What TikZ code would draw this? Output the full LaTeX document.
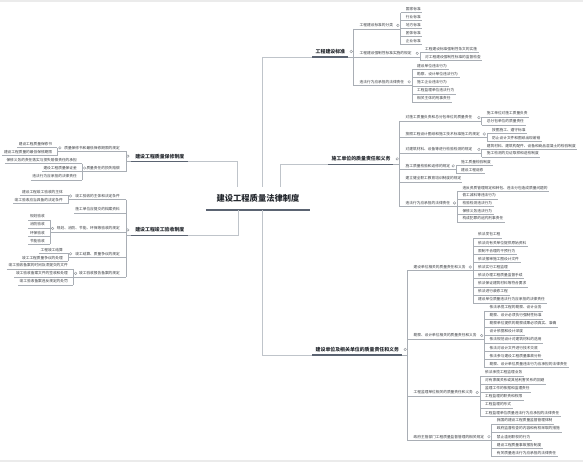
\documentclass[tikz,border=0pt]{standalone}
\usepackage{fontspec}
\setmainfont{Noto Sans CJK SC}
\definecolor{txt}{HTML}{3A3D42}
\definecolor{maintxt}{HTML}{24282E}
\definecolor{ln}{HTML}{A9AEB5}
\definecolor{trunkc}{HTML}{BFC4CA}
\definecolor{dark}{HTML}{5B6472}
\definecolor{framec}{HTML}{EBEBEB}
\tikzset{
  base/.style={inner xsep=0pt, inner ysep=1.7bp, text=txt, font=\fontsize{3.7bp}{4bp}\selectfont},
  rleaf/.style={base, anchor=south west, execute at begin node={\hspace*{5bp}}, execute at end node={\hspace*{1.5bp}}},
  lleaf/.style={base, anchor=south east, execute at begin node={\hspace*{1.5bp}}, execute at end node={\hspace*{5bp}}},
  rpar/.style={base, anchor=south west, execute at begin node={\hspace*{6.5bp}}, execute at end node={\hspace*{1bp}}},
  lpar/.style={base, anchor=south east, execute at begin node={\hspace*{1bp}}, execute at end node={\hspace*{6bp}}},
  mainb/.style={inner xsep=0pt, inner ysep=3bp, text=maintxt, font=\fontsize{4.9bp}{5.5bp}\selectfont\bfseries},
  rmain/.style={mainb, anchor=south west, execute at begin node={\hspace*{3.5bp}}, execute at end node={\hspace*{2.5bp}}},
  lmain/.style={mainb, anchor=south east, execute at begin node={\hspace*{4bp}}, execute at end node={\hspace*{3.5bp}}},
  centerb/.style={anchor=south, minimum width=104bp, minimum height=23bp, inner sep=0pt, text=maintxt, font=\fontsize{8.3bp}{9bp}\selectfont\bfseries},
  uline/.style={draw=ln, line width=0.55bp},
  conn/.style={draw=ln, line width=0.6bp},
  trunk/.style={draw=trunkc, line width=0.9bp},
  mline/.style={draw=dark, line width=1.4bp},
  cline/.style={draw=dark, line width=1.7bp},
  circ/.style={circle, draw=ln!85!black, fill=white, line width=0.4bp, minimum size=2.6bp, inner sep=0pt},
}
\newcommand\RL[4]{\node[rleaf] (#1) at (#2,#3) {#4};\draw[uline] (#1.south west) -- (#1.south east);}
\newcommand\LL[4]{\node[lleaf] (#1) at (#2,#3) {#4};\draw[uline] (#1.south west) -- (#1.south east);}
\newcommand\RP[4]{\node[rpar] (#1) at (#2,#3) {#4};\draw[uline] (#1.south west) -- (#1.south east);}
\newcommand\LP[4]{\node[lpar] (#1) at (#2,#3) {#4};\draw[uline] (#1.south west) -- (#1.south east);}
\newcommand\RWire[3]{%
  \draw[uline] (#1.south east) -- (#1.south east -| #2.south west);
  \draw[uline] (#2.south west) -- (#3.south west);
  \node[circ,xshift=-2.8bp] (#1o) at (#2.south west |- #1.center) {};}
\newcommand\LWire[3]{%
  \draw[uline] (#1.south west) -- (#1.south west -| #2.south east);
  \draw[uline] (#2.south east) -- (#3.south east);
  \node[circ,xshift=2.6bp] (#1o) at (#2.south east |- #1.center) {};}
\newcommand\RMWire[3]{%
  \draw[mline] (#1.south west) -- (#1.south east);
  \draw[conn] (#1.south east) -- (#1.south east -| #2.south west);
  \draw[conn] (#2.south west) -- (#3.south west);
  \node[circ,xshift=-1.8bp] (#1o) at (#2.south west |- #1.center) {};}
\newcommand\LMWire[3]{%
  \draw[mline] (#1.south west) -- (#1.south east);
  \draw[conn] (#1.south west) -- (#1.south west -| #2.south east);
  \draw[conn] (#2.south east) -- (#3.south east);
  \node[circ,xshift=1.8bp] (#1o) at (#2.south east |- #1.center) {};}
\begin{document}
\begin{tikzpicture}[x=1bp,y=-1bp]
\useasboundingbox (0,0) rectangle (583,462);
\fill[framec] (0,0) rectangle (583,462);
\fill[white] (0,2.5) rectangle (583,459.5);

% ---------- center ----------
\node[centerb] (c) at (258,210) {建设工程质量法律制度};
\draw[cline] (c.south west) -- (c.south east);

% ---------- main nodes ----------
\node[rmain] (R1) at (312,57) {工程建设标准};
\node[rmain] (R2) at (328,164.5) {施工单位的质量责任和义务};
\node[rmain] (R3) at (312,355) {建设单位及相关单位的质量责任和义务};
\node[lmain] (L1) at (188,161.7) {建设工程质量保修制度};
\node[lmain] (L2) at (188,235.5) {建设工程竣工验收制度};

\draw[trunk] ([xshift=56.3bp]c.north west) |- (R1.south west);
\draw[trunk] ([xshift=74.7bp]c.north west) |- (R2.south west);
\draw[trunk] ([xshift=56.3bp]c.south west) |- (R3.south west);
\draw[trunk] ([xshift=31.3bp]c.north west) |- (L1.south east);
\draw[trunk] ([xshift=33bp]c.south west) |- (L2.south east);

% ---------- R1 工程建设标准 ----------
\RP{C1}{353}{29}{工程建设标准的分类}
\RP{C2}{353}{57}{工程建设强制性标准实施的规定}
\RP{C3}{353}{85.5}{违法行为应承担的法律责任}
\RL{C1a}{400.7}{12.6}{国家标准}
\RL{C1b}{400.7}{20.6}{行业标准}
\RL{C1c}{400.7}{28.6}{地方标准}
\RL{C1d}{400.7}{36.6}{团体标准}
\RL{C1e}{400.7}{44.6}{企业标准}
\RL{C2a}{420}{52.6}{工程建设标准强制性条文的实施}
\RL{C2b}{420}{60.6}{对工程建设强制性标准的监督检查}
\RL{C3a}{412}{69.6}{建设单位违法行为}
\RL{C3b}{412}{77.7}{勘察、设计单位违法行为}
\RL{C3c}{412}{85.8}{施工企业违法行为}
\RL{C3d}{412}{93.9}{工程监理单位违法行为}
\RL{C3e}{412}{102}{相关主体的刑事责任}
\RWire{C1}{C1a}{C1e}
\RWire{C2}{C2a}{C2b}
\RWire{C3}{C3a}{C3e}
\RMWire{R1}{C1}{C3}

% ---------- R2 施工单位 ----------
\RP{K1}{399}{121.2}{对施工质量负责和总分包单位的质量责任}
\RP{K2}{399}{137.6}{按照工程设计图纸和施工技术标准施工的规定}
\RP{K3}{399}{153.1}{对建筑材料、设备等进行检验检测的规定}
\RP{K4}{399}{169.5}{施工质量检验和返修的规定}
\RP{K5}{399}{181.9}{建立健全职工教育培训制度的规定}
\RP{K6}{399}{206.6}{违法行为应承担的法律责任}
\RL{K1a}{481.7}{117.1}{施工单位对施工质量负责}
\RL{K1b}{481.7}{125.2}{总分包单位的质量责任}
\RL{K2a}{487}{133.5}{按图施工、遵守标准}
\RL{K2b}{487}{141.7}{防止设计文件和图纸出现差错}
\RL{K3a}{481.7}{149.3}{建筑材料、建筑构配件、设备和商品混凝土的检验制度}
\RL{K3b}{481.7}{156.9}{施工检测的见证取样和送检制度}
\RL{K4a}{456}{165.3}{施工质量检验制度}
\RL{K4b}{456}{173.6}{建设工程返修}
\RL{K6a}{457.3}{191.3}{违反资质管理规定和转包、违法分包造成质量问题的}
\RL{K6b}{457.3}{199}{偷工减料等违法行为}
\RL{K6c}{457.3}{206.6}{检验检测违法行为}
\RL{K6d}{457.3}{214.3}{保修义务违法行为}
\RL{K6e}{457.3}{222}{构成犯罪的追究刑事责任}
\RWire{K1}{K1a}{K1b}
\RWire{K2}{K2a}{K2b}
\RWire{K3}{K3a}{K3b}
\RWire{K4}{K4a}{K4b}
\RWire{K6}{K6a}{K6e}
\RMWire{R2}{K1}{K6}

% ---------- R3 建设单位及相关单位 ----------
\RP{D1}{407}{270.6}{建设单位相关的质量责任和义务}
\RP{D2}{407}{339.2}{勘察、设计单位相关的质量责任和义务}
\RP{D3}{407}{396}{工程监理单位相关的质量责任和义务}
\RP{D4}{407}{440.3}{政府主管部门工程质量监督管理的相关规定}
\RL{D1a}{473}{238.2}{依法发包工程}
\RL{D1b}{473}{246.3}{依法向有关单位提供原始资料}
\RL{D1c}{473}{254.4}{限制不合理的干预行为}
\RL{D1d}{473}{262.5}{依法报审施工图设计文件}
\RL{D1e}{473}{270.6}{依法实行工程监理}
\RL{D1f}{473}{278.7}{依法办理工程质量监督手续}
\RL{D1g}{473}{286.8}{依法保证建筑材料等符合要求}
\RL{D1h}{473}{294.9}{依法进行装修工程}
\RL{D1i}{473}{303}{建设单位质量违法行为应承担的法律责任}
\RL{D2a}{484.5}{310.8}{依法承揽工程的勘察、设计业务}
\RL{D2b}{484.5}{318.9}{勘察、设计必须执行强制性标准}
\RL{D2c}{484.5}{327}{勘察单位提供的勘察成果必须真实、准确}
\RL{D2d}{484.5}{335.1}{设计依据和设计深度}
\RL{D2e}{484.5}{343.2}{依法规范设计对建筑材料的选用}
\RL{D2f}{484.5}{351.3}{依法对设计文件进行技术交底}
\RL{D2g}{484.5}{359.4}{依法参与建设工程质量事故分析}
\RL{D2h}{484.5}{367.5}{勘察、设计单位质量违法行为应承担的法律责任}
\RL{D3a}{480}{375.8}{依法承揽工程监理业务}
\RL{D3b}{480}{383.9}{对有隶属关系或其他利害关系的回避}
\RL{D3c}{480}{392}{监理工作的依据和监理责任}
\RL{D3d}{480}{400.1}{工程监理的职责和权限}
\RL{D3e}{480}{408.2}{工程监理的形式}
\RL{D3f}{480}{416.3}{工程监理单位质量违法行为应承担的法律责任}
\RL{D4a}{491.7}{424.1}{我国的建设工程质量监督管理体制}
\RL{D4b}{491.7}{432.2}{政府监督检查的内容和有权采取的措施}
\RL{D4c}{491.7}{440.3}{禁止滥用职权的行为}
\RL{D4d}{491.7}{448.4}{建设工程质量事故报告制度}
\RL{D4e}{491.7}{456.5}{有关质量违法行为应承担的法律责任}
\RWire{D1}{D1a}{D1i}
\RWire{D2}{D2a}{D2h}
\RWire{D3}{D3a}{D3f}
\RWire{D4}{D4a}{D4e}
\RMWire{R3}{D1}{D4}

% ---------- L1 质量保修制度 ----------
\LP{E1}{126}{151.5}{质量保修书和最低保修期限的规定}
\LP{E2}{126}{171.6}{质量责任的损失赔偿}
\LL{E1a}{57.3}{147.6}{建设工程质量保修书}
\LL{E1b}{57.3}{155.7}{建设工程质量的最低保修期限}
\LL{E2a}{82}{163.6}{保修义务的责任落实与损失赔偿责任的承担}
\LL{E2b}{82}{171.7}{建设工程质量保证金}
\LL{E2c}{82}{179.8}{违法行为应承担的法律责任}
\LWire{E1}{E1a}{E1b}
\LWire{E2}{E2a}{E2c}
\LMWire{L1}{E1}{E2}

% ---------- L2 竣工验收制度 ----------
\LP{F1}{126}{199.6}{竣工验收的主体和法定条件}
\LP{F2}{126}{212.8}{施工单位应提交的档案资料}
\LP{F3}{126}{232.1}{规划、消防、节能、环保等验收的规定}
\LP{F4}{126}{257.4}{竣工结算、质量争议的规定}
\LP{F5}{126}{277}{竣工验收报告备案的规定}
\LL{F1a}{68}{195.5}{建设工程竣工验收的主体}
\LL{F1b}{68}{203.6}{竣工验收应当具备的法定条件}
\LL{F3a}{50}{220}{规划验收}
\LL{F3b}{50}{228.1}{消防验收}
\LL{F3c}{50}{236.2}{环保验收}
\LL{F3d}{50}{244.3}{节能验收}
\LL{F4a}{68}{253.3}{工程竣工结算}
\LL{F4b}{68}{261.4}{竣工工程质量争议的处理}
\LL{F5a}{73}{268.9}{竣工验收备案的时间及须提交的文件}
\LL{F5b}{73}{277}{竣工验收备案文件的签收和处理}
\LL{F5c}{73}{285.1}{竣工验收备案违反规定的处罚}
\LWire{F1}{F1a}{F1b}
\LWire{F3}{F3a}{F3d}
\LWire{F4}{F4a}{F4b}
\LWire{F5}{F5a}{F5c}
\LMWire{L2}{F1}{F5}
\end{tikzpicture}
\end{document}
